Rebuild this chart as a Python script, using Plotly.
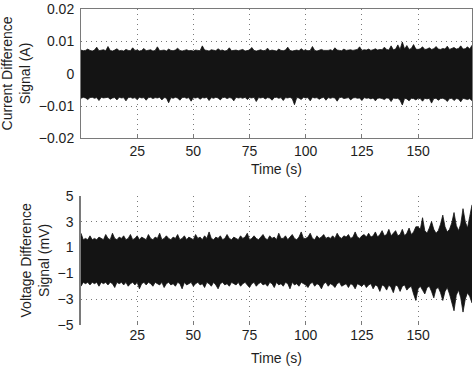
import plotly.graph_objects as go

# time samples (s) for the envelope readings
t = list(range(0, 175))

# Current difference signal envelope (mA)
cur_upper_mA = [
    7.3,7.1,7.2,7.6,7.2,7.0,7.3,8.2,7.1,7.2,
    7.4,7.1,8.4,7.2,7.0,7.3,7.7,7.1,7.2,7.0,
    7.5,7.2,7.1,8.0,7.2,7.3,7.0,7.2,7.8,7.1,
    7.2,7.4,7.0,7.2,8.3,7.1,7.2,7.3,7.0,7.6,
    7.2,7.1,7.3,7.9,7.2,7.0,7.2,7.4,7.1,7.2,
    7.0,7.3,7.2,7.1,8.6,7.3,7.2,7.0,7.4,7.2,
    7.1,7.7,7.2,7.3,7.0,7.2,8.0,7.1,7.2,7.3,
    7.1,7.2,7.5,7.0,7.2,7.3,8.1,7.2,7.0,7.2,
    7.4,7.1,7.2,7.9,7.1,7.3,7.2,7.0,7.6,7.2,
    7.1,7.3,8.2,7.2,7.0,7.2,7.3,7.1,7.7,7.2,
    7.3,7.1,7.2,8.4,7.2,7.0,7.3,7.5,7.2,7.1,
    7.2,7.4,7.1,8.0,7.3,7.2,7.1,7.6,7.2,7.3,
    7.4,7.2,7.3,7.5,8.3,7.2,7.4,7.3,7.6,7.2,
    7.4,7.7,7.3,7.5,7.4,8.2,7.5,7.3,8.6,7.4,
    7.6,8.9,7.5,9.8,7.6,8.7,7.5,7.8,9.0,7.6,
    7.5,7.7,8.3,7.5,7.6,8.0,7.5,7.7,8.4,7.6,
    7.5,7.8,7.6,8.5,7.5,7.7,8.1,7.6,7.8,8.6,
    7.6,7.7,8.3,7.6,8.8,
]
cur_lower_mA = [
    -7.6,-7.3,-7.5,-8.0,-7.4,-7.3,-7.6,-7.4,-8.3,-7.3,
    -7.5,-7.4,-7.3,-7.9,-7.5,-7.4,-8.1,-7.3,-7.5,-7.4,
    -8.4,-7.4,-7.3,-7.6,-7.4,-8.0,-7.3,-7.5,-7.4,-8.2,
    -7.4,-7.3,-7.7,-7.4,-7.5,-7.3,-8.1,-7.4,-7.5,-9.0,
    -7.4,-7.6,-7.3,-7.5,-8.2,-7.4,-7.3,-7.6,-7.4,-8.5,
    -7.4,-7.5,-7.3,-7.9,-7.4,-7.5,-7.3,-8.3,-7.4,-7.6,
    -7.3,-7.5,-8.1,-7.4,-7.3,-7.7,-7.4,-7.5,-8.4,-7.3,
    -7.5,-7.4,-7.6,-7.3,-8.0,-7.4,-7.5,-7.3,-8.6,-7.4,
    -7.5,-7.3,-7.8,-7.4,-7.5,-8.2,-7.4,-7.3,-7.6,-7.4,
    -8.3,-7.4,-7.5,-7.3,-7.7,-9.6,-7.4,-7.5,-8.0,-7.3,
    -7.5,-7.4,-8.4,-7.3,-7.5,-7.4,-7.9,-7.5,-7.3,-8.2,
    -7.4,-7.6,-7.4,-7.5,-8.5,-7.4,-7.3,-7.7,-7.5,-7.4,
    -8.1,-7.5,-7.4,-7.6,-7.5,-8.3,-7.4,-7.6,-7.5,-7.8,
    -7.5,-8.4,-7.6,-7.5,-7.7,-8.0,-7.5,-7.6,-8.6,-7.5,
    -7.7,-7.6,-8.2,-9.7,-7.6,-7.8,-8.4,-7.6,-7.7,-8.1,
    -7.6,-7.7,-8.5,-7.6,-7.8,-7.6,-9.1,-7.7,-7.6,-8.2,
    -7.7,-7.6,-7.9,-8.6,-7.7,-7.6,-8.3,-7.7,-7.8,-8.7,
    -7.6,-7.8,-8.0,-7.7,-8.4,
]

# Voltage difference signal envelope (mV)
volt_upper = [
    2.1,1.6,1.7,1.6,1.9,1.6,1.7,1.6,1.8,1.7,
    1.6,2.0,1.7,1.6,2.1,1.7,1.6,1.8,1.7,1.9,
    1.6,1.7,2.0,1.6,1.7,1.9,1.6,1.8,1.7,1.6,
    2.0,1.7,1.6,1.8,1.7,2.1,1.6,1.7,1.9,1.7,
    1.6,1.8,1.7,2.0,1.6,1.7,1.9,1.6,1.8,1.7,
    1.6,2.0,1.7,1.8,1.6,1.9,1.7,2.2,1.7,1.6,
    1.8,1.7,1.9,1.6,1.7,2.0,1.7,1.6,1.8,1.7,
    1.6,1.9,1.7,1.8,2.1,1.6,1.7,1.9,1.7,1.6,
    1.8,2.0,1.7,1.6,1.9,1.7,1.8,1.6,2.1,1.7,
    1.7,1.9,1.6,1.8,2.0,1.7,1.6,1.8,2.2,1.7,
    1.7,1.8,2.1,1.7,1.6,1.9,1.7,1.8,2.0,1.7,
    1.8,1.7,1.9,1.7,2.1,1.8,1.7,1.9,1.8,2.0,
    1.7,1.8,2.2,1.8,1.7,1.9,2.0,1.8,2.1,1.8,
    1.9,2.2,1.8,2.0,2.3,1.9,2.0,2.4,1.9,2.1,
    2.3,1.9,2.0,2.4,1.9,2.1,2.5,2.0,2.2,2.6,
    2.6,2.4,3.3,2.3,2.1,2.5,3.0,2.4,2.1,2.3,
    2.8,3.5,2.6,2.2,2.4,2.9,3.7,2.7,2.3,2.8,
    4.0,3.0,2.5,3.4,4.3,
]
volt_lower = [
    -2.0,-1.7,-1.8,-1.7,-1.9,-1.7,-1.8,-1.7,-2.0,-1.7,
    -1.8,-1.7,-1.9,-1.7,-1.8,-2.1,-1.7,-1.8,-1.7,-1.9,
    -1.7,-2.0,-1.8,-1.7,-1.9,-1.7,-2.2,-1.8,-1.7,-1.9,
    -1.7,-1.8,-2.0,-1.7,-1.8,-1.9,-1.7,-2.1,-1.8,-1.7,
    -1.9,-1.8,-2.0,-1.7,-1.8,-2.2,-1.7,-1.9,-1.8,-1.7,
    -2.0,-1.8,-1.7,-1.9,-1.8,-2.1,-1.7,-1.8,-2.0,-1.7,
    -1.9,-2.2,-1.8,-1.7,-1.9,-1.8,-2.0,-1.7,-1.8,-1.9,
    -1.7,-2.0,-1.8,-1.7,-1.9,-2.1,-1.8,-1.7,-2.0,-1.8,
    -1.7,-1.9,-1.8,-2.0,-1.7,-1.8,-2.1,-1.7,-1.9,-1.8,
    -2.0,-1.7,-1.8,-2.2,-1.7,-1.9,-1.8,-2.0,-1.7,-1.8,
    -1.9,-2.1,-1.8,-1.7,-2.0,-1.8,-1.9,-2.2,-1.8,-1.7,
    -2.0,-1.8,-1.9,-2.1,-1.8,-1.7,-2.0,-1.9,-1.8,-2.1,
    -1.8,-1.9,-2.2,-1.8,-1.9,-2.0,-1.8,-2.1,-1.9,-1.8,
    -2.2,-1.9,-2.0,-2.4,-1.9,-2.0,-2.3,-1.9,-2.1,-2.5,
    -1.9,-2.0,-2.4,-2.0,-1.9,-2.3,-2.1,-2.0,-2.6,-3.1,
    -2.2,-2.0,-2.3,-2.6,-2.1,-2.0,-2.4,-2.9,-2.2,-2.1,
    -2.5,-3.1,-2.4,-2.1,-2.6,-3.2,-3.9,-2.7,-2.3,-2.9,
    -4.0,-3.0,-2.5,-2.8,-3.3,
]

x_ticks = [25, 50, 75, 100, 125, 150]
cur_ticks = [0.02, 0.01, 0, -0.01, -0.02]
cur_tick_text = ["0.02", "0.01", "0", "\u22120.01", "\u22120.02"]
volt_ticks = [5, 3, 1, -1, -3, -5]
volt_tick_text = ["5", "3", "1", "\u22121", "\u22123", "\u22125"]

FONT = "Liberation Sans, Arial, sans-serif"
FS = 14
TXT = "#1e1e1e"
SIG = "#141414"
AX = "#7a7a7a"
GRID = "#7a7a7a"
DOTS = "1px,4px"

fig = go.Figure()
cur_up = [v / 1000 for v in cur_upper_mA]
cur_lo = [v / 1000 for v in cur_lower_mA]
fig.add_trace(go.Scatter(x=t, y=cur_up, mode="lines", line=dict(color=SIG, width=0.8),
                         xaxis="x", yaxis="y", showlegend=False, hoverinfo="skip"))
fig.add_trace(go.Scatter(x=t, y=cur_lo, mode="lines", line=dict(color=SIG, width=0.8),
                         fill="tonexty", fillcolor=SIG,
                         xaxis="x", yaxis="y", showlegend=False, hoverinfo="skip"))
fig.add_trace(go.Scatter(x=t, y=volt_upper, mode="lines", line=dict(color=SIG, width=0.8),
                         xaxis="x2", yaxis="y2", showlegend=False, hoverinfo="skip"))
fig.add_trace(go.Scatter(x=t, y=volt_lower, mode="lines", line=dict(color=SIG, width=0.8),
                         fill="tonexty", fillcolor=SIG,
                         xaxis="x2", yaxis="y2", showlegend=False, hoverinfo="skip"))

tickfont = dict(family=FONT, size=FS, color=TXT)
common_x = dict(range=[0, 174], tickvals=x_ticks, showgrid=True, gridcolor=GRID,
                griddash=DOTS, gridwidth=1, zeroline=False, ticks="inside",
                ticklen=3, tickcolor=AX, tickfont=tickfont)
common_y = dict(showgrid=True, gridcolor=GRID, griddash=DOTS, gridwidth=1,
                zeroline=False, ticks="", tickfont=tickfont, ticklabelstandoff=3)

fig.update_layout(
    width=474, height=366,
    margin=dict(l=81, r=1, t=5, b=41),
    paper_bgcolor="white", plot_bgcolor="white",
    font=dict(family=FONT, size=FS, color=TXT),
    xaxis=dict(domain=[0, 1], anchor="y", showline=True, linecolor=AX, linewidth=1,
               mirror=True, **common_x),
    yaxis=dict(domain=[0.5906, 1], anchor="x", range=[-0.02, 0.02],
               tickvals=cur_ticks, ticktext=cur_tick_text,
               showline=True, linecolor=AX, linewidth=1, mirror=True, **common_y),
    xaxis2=dict(domain=[0, 1], anchor="y2", showline=False, **common_x),
    yaxis2=dict(domain=[0, 0.409], anchor="x2", range=[-5, 5],
                tickvals=volt_ticks, ticktext=volt_tick_text,
                showline=True, linecolor=AX, linewidth=1.5, **common_y),
    annotations=[
        dict(text="Current Difference<br>Signal (A)", xref="paper", yref="paper",
             x=-0.167, y=0.795, xanchor="center", yanchor="middle", textangle=-90,
             showarrow=False, font=dict(family=FONT, size=FS, color=TXT)),
        dict(text="Voltage Difference<br>Signal (mV)", xref="paper", yref="paper",
             x=-0.1173, y=0.2047, xanchor="center", yanchor="middle", textangle=-90,
             showarrow=False, font=dict(family=FONT, size=FS, color=TXT)),
        dict(text="Time (s)", xref="paper", yref="paper", x=0.5, y=0.4947,
             xanchor="center", yanchor="middle", showarrow=False,
             font=dict(family=FONT, size=FS, color=TXT)),
        dict(text="Time (s)", xref="paper", yref="paper", x=0.5, y=-0.103,
             xanchor="center", yanchor="middle", showarrow=False,
             font=dict(family=FONT, size=FS, color=TXT)),
    ],
)

fig.write_html(
    "out.html",
    config={"displayModeBar": False},
    post_script="document.body.style.margin='0';document.body.style.overflow='hidden';",
)
